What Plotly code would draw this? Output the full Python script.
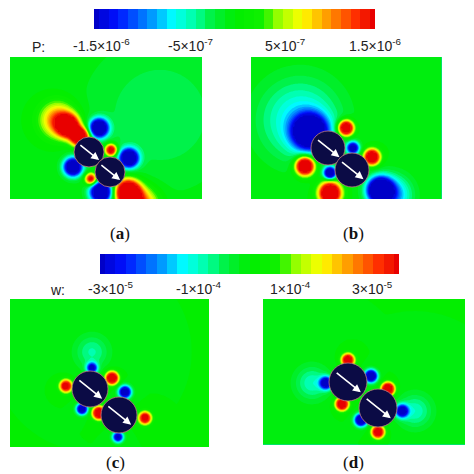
import numpy as np
import plotly.graph_objects as go

# Panel boxes in page pixels: x0, x1, y0, y1
panels = {"a": (10, 202, 57, 199), "b": (251, 442, 57, 199),
          "c": (10, 209, 299, 447), "d": (263, 465, 299, 445)}

# Lobes: x, y, amplitude, spread (pixels)
lobes = {
    "a": {"x": [68, 80, 58, 99, 73, 111, 91, 129, 101, 128, 140, 160],
          "y": [126, 137, 120, 128, 167, 150, 179, 158, 192, 192, 205, 115],
          "amp": [2.0, 2.0, 0.9, -2.0, -1.9, 1.5, 1.3, -2.0, -2.0, 2.2, 1.0, -0.2],
          "s": [7, 6, 12, 6, 6, 4, 4, 6, 7, 8, 12, 55]},
    "b": {"x": [310, 300, 346, 353, 372, 305, 330, 330, 380, 392],
          "y": [132, 120, 128, 148, 157, 166, 173, 193, 190, 195],
          "amp": [-2.0, -0.5, 2.0, -1.5, 2.0, 2.2, -1.8, 2.2, -2.2, -0.7],
          "s": [11, 28, 5, 4, 5, 6, 4, 7, 8, 13]},
    "c": {"x": [66, 112, 125, 92, 82, 99, 145, 118, 92],
          "y": [386, 378, 392, 368, 409, 413, 418, 437, 352],
          "amp": [1.6, 2.0, -1.8, -1.3, -1.8, 2.0, 1.6, -1.4, -0.3],
          "s": [4, 4, 4, 3.5, 3.5, 4, 4, 3.5, 12]},
    "d": {"x": [348, 326, 312, 371, 388, 342, 361, 402, 415, 378],
          "y": [360, 383, 383, 376, 389, 404, 420, 411, 411, 432],
          "amp": [1.8, -1.6, -0.35, -2.0, 2.2, 2.0, -2.0, -1.6, -0.35, 1.8],
          "s": [4, 4, 12, 4, 4, 4, 4, 4, 12, 4]},
}

# Particles: centres and radius in page pixels
circles = {"a": ([89, 110], [152, 172], 15), "b": ([328, 352], [148, 170], 17),
           "c": ([90, 119], [389, 415], 18), "d": ([348, 378], [382, 408], 19)}

p_labels = ["-1.5×10<sup>-6</sup>", "-5×10<sup>-7</sup>", "5×10<sup>-7</sup>", "1.5×10<sup>-6</sup>"]
p_label_x = [101, 190, 285, 375]
w_labels = ["-3×10<sup>-5</sup>", "-1×10<sup>-4</sup>", "1×10<sup>-4</sup>", "3×10<sup>-5</sup>"]
w_label_x = [110, 198, 290, 372]

jet = [[0, "#0000c8"], [0.08, "#0010ff"], [0.2, "#0090ff"], [0.28, "#00ffff"],
       [0.36, "#00ffa0"], [0.42, "#00f040"], [0.5, "#00ee00"], [0.6, "#10f000"],
       [0.66, "#a0ff00"], [0.74, "#ffff00"], [0.84, "#ff9000"], [0.93, "#ff3000"],
       [1, "#e80000"]]

W = H = 474
fig = go.Figure()
shapes, annotations = [], []

for i, (k, (x0, x1, y0, y1)) in enumerate(panels.items()):
    n = "" if i == 0 else str(i + 1)
    xs = np.arange(x0, x1 + 1, 1.5)
    ys = np.arange(y0, y1 + 1, 1.5)
    X, Y = np.meshgrid(xs, ys)
    L = lobes[k]
    Z = np.zeros_like(X)
    for lx, ly, a, s in zip(L["x"], L["y"], L["amp"], L["s"]):
        Z += a * np.exp(-((X - lx) ** 2 + (Y - ly) ** 2) / (2 * s * s))
    fig.add_trace(go.Contour(
        x=xs, y=ys, z=np.clip(Z, -1, 1), xaxis="x" + n, yaxis="y" + n,
        coloraxis="coloraxis" if k in "ab" else "coloraxis2",
        contours=dict(start=-1, end=1, size=2 / 28, coloring="fill"),
        line_width=0, hoverinfo="skip"))
    fig.update_layout(**{
        "xaxis" + n: dict(range=[x0, x1], domain=[x0 / W, x1 / W], visible=False,
                          anchor="y" + n),
        "yaxis" + n: dict(range=[y1, y0], domain=[1 - y1 / H, 1 - y0 / H], visible=False,
                          anchor="x" + n)})
    cx, cy, r = circles[k]
    for px, py in zip(cx, cy):
        shapes.append(dict(type="circle", xref="x" + n, yref="y" + n,
                           x0=px - r, x1=px + r, y0=py - r, y1=py + r,
                           fillcolor="#0b0b45", line=dict(color="#c08080", width=0.8)))
    for px, py in zip(cx, cy):
        d = r * 0.9
        annotations.append(dict(xref="x" + n, yref="y" + n, axref="x" + n, ayref="y" + n,
                                ax=px - d * 0.75, ay=py - d * 0.6,
                                x=px + d * 0.75, y=py + d * 0.6, text="",
                                showarrow=True, arrowhead=2, arrowsize=1,
                                arrowwidth=1.6, arrowcolor="white"))

cb = dict(orientation="h", thickness=20, thicknessmode="pixels", lenmode="fraction",
          showticklabels=False, ticks="", outlinewidth=0, xanchor="left", yanchor="top",
          xpad=0, ypad=0)
fig.update_layout(
    coloraxis=dict(colorscale=jet, cmin=-1, cmax=1,
                   colorbar=dict(cb, x=94 / W, len=281 / W, y=1 - 9 / H)),
    coloraxis2=dict(colorscale=jet, cmin=-1, cmax=1,
                    colorbar=dict(cb, x=100 / W, len=299 / W, y=1 - 254 / H)))


def label(text, x, y, font):
    annotations.append(dict(text=text, x=x / W, y=1 - y / H, xref="paper", yref="paper",
                            xanchor="center", yanchor="middle", showarrow=False, font=font))


lab_font = dict(family="Liberation Sans, Arial", size=14, color="#222")
label("P:", 38, 47, lab_font)
for t, lx in zip(p_labels, p_label_x):
    label(t, lx, 45, lab_font)
label("w:", 57, 290, lab_font)
for t, lx in zip(w_labels, w_label_x):
    label(t, lx, 288, lab_font)

serif = dict(family="Liberation Serif, Times New Roman", size=17, color="#111")
for t, lx, ly in [("a", 120, 233), ("b", 353, 233), ("c", 115, 462), ("d", 353, 462)]:
    label("(<b>%s</b>)" % t, lx, ly, serif)

fig.update_layout(width=W, height=H, margin=dict(l=0, r=0, t=0, b=0),
                  paper_bgcolor="white", plot_bgcolor="white", showlegend=False,
                  shapes=shapes, annotations=annotations)
fig.write_html("out.html", config={"displayModeBar": False},
               post_script="document.body.style.margin='0';")
